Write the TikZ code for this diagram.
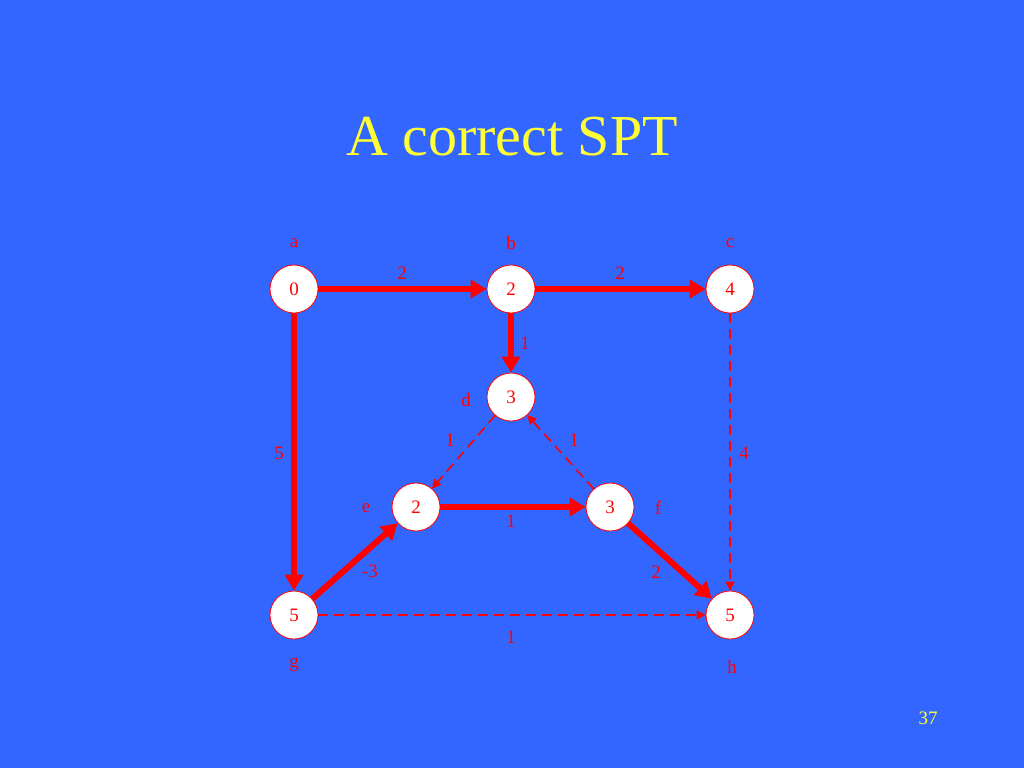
\documentclass[tikz,border=0pt]{standalone}
\usepackage{fontspec}
\setmainfont{Liberation Serif}
\usetikzlibrary{arrows.meta}
\definecolor{bg}{HTML}{3366FF}
\definecolor{rd}{HTML}{FF0000}
\definecolor{yl}{HTML}{FFFF33}
\begin{document}
\begin{tikzpicture}[x=1pt,y=-1pt,
  vtx/.style={circle,draw=rd,fill=white,line width=0.8pt,minimum size=48pt,inner sep=0pt,font=\fontsize{19}{19}\selectfont,text=rd},
  lbl/.style={text=rd,font=\fontsize{19}{19}\selectfont},
  tree/.style={draw=rd,line width=6pt,-{Triangle[length=16pt,width=18pt]}},
  nontree/.style={draw=rd,line width=1.6pt,dash pattern=on 10pt off 6pt,-{Triangle[length=9pt,width=9pt]}}]
\fill[bg] (0,0) rectangle (1024,768);
\useasboundingbox (0,0) rectangle (1024,768);
\node[text=yl,font=\fontsize{58}{58}\selectfont] (title) at (512,137) {A correct SPT};
\node[text=yl,font=\fontsize{19}{19}\selectfont] (pg) at (928,718) {37};
\node[vtx] (a) at (294,289) {0};
\node[vtx] (b) at (511,289) {2};
\node[vtx] (c) at (730,289) {4};
\node[vtx] (d) at (511,397) {3};
\node[vtx] (e) at (416,507) {2};
\node[vtx] (f) at (610,507) {3};
\node[vtx] (g) at (294,615) {5};
\node[vtx] (h) at (730,615) {5};
\node[lbl] (la) at (294,243) {a};
\node[lbl] (lb) at (511,243) {b};
\node[lbl] (lc) at (730,243) {c};
\node[lbl] (ld) at (466,400) {d};
\node[lbl] (le) at (366,508) {e};
\node[lbl] (lf) at (658,508) {f};
\node[lbl] (lg) at (294,665) {g};
\node[lbl] (lh) at (732,667) {h};
\draw[tree] (a) -- (b);
\draw[tree] (b) -- (c);
\draw[tree] (b) -- (d);
\draw[tree] (a) -- (g);
\draw[tree] (e) -- (f);
\draw[tree] (g) -- (e);
\draw[tree] (f) -- (h);
\draw[nontree] (c) -- (h);
\draw[nontree] (d) -- (e);
\draw[nontree] (f) -- (d);
\draw[nontree] (g) -- (h);
\node[lbl] (w1) at (402,273) {2};
\node[lbl] (w2) at (620,273) {2};
\node[lbl] (w3) at (525,343) {1};
\node[lbl] (w4) at (279,453) {5};
\node[lbl] (w5) at (744,453) {4};
\node[lbl] (w6) at (450,440) {1};
\node[lbl] (w7) at (574,440) {1};
\node[lbl] (w8) at (511,521) {1};
\node[lbl] (w9) at (370,571) {-3};
\node[lbl] (w10) at (656,572) {2};
\node[lbl] (w11) at (511,637) {1};
\end{tikzpicture}
\end{document}
